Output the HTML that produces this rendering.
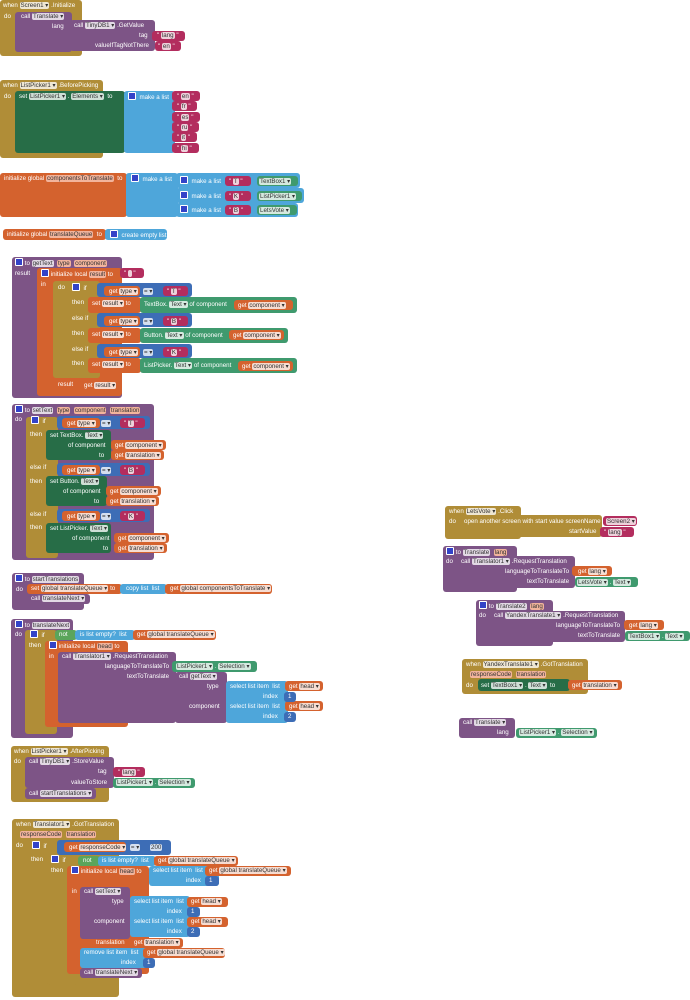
<!DOCTYPE html>
<html><head><meta charset="utf-8"><style>
body{margin:0;width:690px;height:1000px;background:#fff;position:relative;overflow:hidden}
.b{position:absolute;border-radius:3px}
.g{background:#B08D37}.p{background:#7D5486}.o{background:#D4622E}.l{background:#4EA6DA}
.r{background:#B32D5E}.c{background:#3F9A6E}.d{background:#276D47}.m{background:#3D6DB6}.n{background:#5BA55B}
.t{position:absolute;font:6.2px/9px "Liberation Sans",sans-serif;color:#fff;white-space:nowrap}
.f{background:rgba(255,255,255,.78);color:#333;border-radius:2px;padding:0 1px}
.v{background:#F2B49C;color:#333;border-radius:2px;padding:0 1px}
.i{display:inline-block;width:6px;height:6px;background:#3343c8;border:1px solid #fff;border-radius:1px;vertical-align:-1px}
</style></head><body>

<!-- Screen1.Initialize -->
<div class="b g" style="left:0;top:0;width:82px;height:56px"></div>
<div class="b p" style="left:15px;top:12px;width:57px;height:40px"></div>
<div class="b p" style="left:70px;top:20px;width:85px;height:31px"></div>
<div class="b r" style="left:152px;top:31px;width:33px;height:10px"></div>
<div class="b r" style="left:155px;top:41px;width:26px;height:10px"></div>
<div class="t" style="left:3px;top:1px">when <span class=f>Screen1 ▾</span> .Initialize</div>
<div class="t" style="left:4px;top:12px">do</div>
<div class="t" style="left:21px;top:12px">call <span class=f>Translate ▾</span></div>
<div class="t" style="left:52px;top:22px">lang</div>
<div class="t" style="left:74px;top:21px">call <span class=f>TinyDB1 ▾</span> .GetValue</div>
<div class="t" style="left:139px;top:31px">tag</div>
<div class="t" style="left:95px;top:41px">valueIfTagNotThere</div>
<div class="t" style="left:157px;top:31px">" <span class=f>lang</span> "</div>
<div class="t" style="left:158px;top:42px">" <span class=f>en</span> "</div>

<!-- ListPicker1.BeforePicking -->
<div class="b g" style="left:0;top:80px;width:103px;height:78px"></div>
<div class="b d" style="left:15px;top:91px;width:110px;height:62px"></div>
<div class="b l" style="left:124px;top:91px;width:51px;height:62px"></div>
<div class="b r" style="left:172px;top:91px;width:28px;height:10px"></div>
<div class="b r" style="left:172px;top:101px;width:25px;height:10px"></div>
<div class="b r" style="left:172px;top:112px;width:28px;height:10px"></div>
<div class="b r" style="left:172px;top:122px;width:27px;height:10px"></div>
<div class="b r" style="left:172px;top:132px;width:25px;height:10px"></div>
<div class="b r" style="left:172px;top:143px;width:27px;height:10px"></div>
<div class="t" style="left:3px;top:81px">when <span class=f>ListPicker1 ▾</span> .BeforePicking</div>
<div class="t" style="left:4px;top:92px">do</div>
<div class="t" style="left:19px;top:92px">set <span class=f>ListPicker1 ▾</span> . <span class=f>Elements ▾</span> &nbsp;to</div>
<div class="t" style="left:128px;top:92px"><span class=i></span> &nbsp;make a list</div>
<div class="t" style="left:177px;top:92px">" <span class=f>en</span> "</div>
<div class="t" style="left:177px;top:102px">" <span class=f>fr</span> "</div>
<div class="t" style="left:177px;top:113px">" <span class=f>es</span> "</div>
<div class="t" style="left:177px;top:123px">" <span class=f>ru</span> "</div>
<div class="t" style="left:177px;top:133px">" <span class=f>it</span> "</div>
<div class="t" style="left:177px;top:144px">" <span class=f>hi</span> "</div>

<!-- componentsToTranslate -->
<div class="b o" style="left:0;top:173px;width:127px;height:44px"></div>
<div class="b l" style="left:126px;top:173px;width:52px;height:44px"></div>
<div class="b l" style="left:176px;top:173px;width:124px;height:15px"></div>
<div class="b l" style="left:176px;top:188px;width:128px;height:15px"></div>
<div class="b l" style="left:176px;top:203px;width:122px;height:14px"></div>
<div class="b r" style="left:225px;top:176px;width:26px;height:10px"></div>
<div class="b r" style="left:225px;top:191px;width:26px;height:10px"></div>
<div class="b r" style="left:225px;top:205px;width:26px;height:10px"></div>
<div class="b c" style="left:257px;top:176px;width:41px;height:10px"></div>
<div class="b c" style="left:257px;top:191px;width:45px;height:10px"></div>
<div class="b c" style="left:257px;top:205px;width:40px;height:10px"></div>
<div class="t" style="left:4px;top:174px">initialize global <span class=v>componentsToTranslate</span> &nbsp;to</div>
<div class="t" style="left:131px;top:174px"><span class=i></span> &nbsp;make a list</div>
<div class="t" style="left:180px;top:176px"><span class=i></span> &nbsp;make a list</div>
<div class="t" style="left:180px;top:191px"><span class=i></span> &nbsp;make a list</div>
<div class="t" style="left:180px;top:205px"><span class=i></span> &nbsp;make a list</div>
<div class="t" style="left:229px;top:177px">" <span class=f>T</span> "</div>
<div class="t" style="left:229px;top:192px">" <span class=f>K</span> "</div>
<div class="t" style="left:229px;top:206px">" <span class=f>B</span> "</div>
<div class="t" style="left:259px;top:177px"><span class=f>TextBox1 ▾</span></div>
<div class="t" style="left:259px;top:192px"><span class=f>ListPicker1 ▾</span></div>
<div class="t" style="left:259px;top:206px"><span class=f>LetsVote ▾</span></div>

<!-- translateQueue -->
<div class="b o" style="left:3px;top:229px;width:103px;height:11px"></div>
<div class="b l" style="left:105px;top:229px;width:62px;height:11px"></div>
<div class="t" style="left:7px;top:230px">initialize global <span class=v>translateQueue</span> &nbsp;to</div>
<div class="t" style="left:110px;top:230px"><span class=i></span> &nbsp;create empty list</div>

<!-- getText -->
<div class="b p" style="left:12px;top:257px;width:110px;height:141px"></div>
<div class="b o" style="left:37px;top:268px;width:85px;height:128px"></div>
<div class="b r" style="left:120px;top:268px;width:24px;height:10px"></div>
<div class="b g" style="left:53px;top:281px;width:47px;height:97px"></div>
<div class="b g" style="left:68px;top:282px;width:32px;height:96px"></div>
<div class="b m" style="left:97px;top:283px;width:95px;height:14px"></div>
<div class="b m" style="left:97px;top:313px;width:95px;height:14px"></div>
<div class="b m" style="left:97px;top:344px;width:95px;height:14px"></div>
<div class="b o" style="left:88px;top:297px;width:53px;height:16px"></div>
<div class="b o" style="left:88px;top:328px;width:53px;height:15px"></div>
<div class="b o" style="left:88px;top:358px;width:53px;height:15px"></div>
<div class="b c" style="left:140px;top:297px;width:157px;height:16px"></div>
<div class="b c" style="left:140px;top:328px;width:148px;height:15px"></div>
<div class="b c" style="left:140px;top:358px;width:157px;height:15px"></div>
<div class="b o" style="left:234px;top:300px;width:59px;height:10px"></div>
<div class="b o" style="left:229px;top:330px;width:55px;height:10px"></div>
<div class="b o" style="left:238px;top:361px;width:55px;height:10px"></div>
<div class="b o" style="left:104px;top:286px;width:36px;height:10px"></div>
<div class="b o" style="left:104px;top:316px;width:36px;height:10px"></div>
<div class="b o" style="left:104px;top:347px;width:36px;height:10px"></div>
<div class="b r" style="left:163px;top:286px;width:25px;height:10px"></div>
<div class="b r" style="left:163px;top:316px;width:25px;height:10px"></div>
<div class="b r" style="left:163px;top:347px;width:25px;height:10px"></div>
<div class="b o" style="left:80px;top:380px;width:40px;height:10px"></div>
<div class="t" style="left:15px;top:258px"><span class=i></span> to <span class=f>getText</span> &nbsp;<span class=v>type</span> &nbsp;<span class=v>component</span></div>
<div class="t" style="left:15px;top:269px">result</div>
<div class="t" style="left:41px;top:269px"><span class=i></span> initialize local <span class=v>result</span> to</div>
<div class="t" style="left:124px;top:269px">" <span class=f>&nbsp;</span> "</div>
<div class="t" style="left:41px;top:280px">in</div>
<div class="t" style="left:58px;top:283px">do</div>
<div class="t" style="left:72px;top:283px"><span class=i></span> &nbsp;if</div>
<div class="t" style="left:109px;top:287px">get <span class=f>type ▾</span> &nbsp;&nbsp;<span class=f>= ▾</span></div>
<div class="t" style="left:167px;top:287px">" <span class=f>T</span> "</div>
<div class="t" style="left:72px;top:298px">then</div>
<div class="t" style="left:92px;top:299px">set <span class=f>result ▾</span> to</div>
<div class="t" style="left:144px;top:300px">TextBox. <span class=f>Text ▾</span> of component</div>
<div class="t" style="left:238px;top:301px">get <span class=f>component ▾</span></div>
<div class="t" style="left:72px;top:314px">else if</div>
<div class="t" style="left:109px;top:317px">get <span class=f>type ▾</span> &nbsp;&nbsp;<span class=f>= ▾</span></div>
<div class="t" style="left:167px;top:317px">" <span class=f>B</span> "</div>
<div class="t" style="left:72px;top:329px">then</div>
<div class="t" style="left:92px;top:330px">set <span class=f>result ▾</span> to</div>
<div class="t" style="left:144px;top:331px">Button. <span class=f>Text ▾</span> of component</div>
<div class="t" style="left:233px;top:331px">get <span class=f>component ▾</span></div>
<div class="t" style="left:72px;top:345px">else if</div>
<div class="t" style="left:109px;top:348px">get <span class=f>type ▾</span> &nbsp;&nbsp;<span class=f>= ▾</span></div>
<div class="t" style="left:167px;top:348px">" <span class=f>K</span> "</div>
<div class="t" style="left:72px;top:359px">then</div>
<div class="t" style="left:92px;top:360px">set <span class=f>result ▾</span> to</div>
<div class="t" style="left:144px;top:361px">ListPicker. <span class=f>Text ▾</span> of component</div>
<div class="t" style="left:242px;top:362px">get <span class=f>component ▾</span></div>
<div class="t" style="left:58px;top:380px">result</div>
<div class="t" style="left:84px;top:381px">get <span class=f>result ▾</span></div>

<!-- setText -->
<div class="b p" style="left:12px;top:404px;width:142px;height:156px"></div>
<div class="b g" style="left:26px;top:417px;width:32px;height:141px"></div>
<div class="b m" style="left:57px;top:416px;width:93px;height:13px"></div>
<div class="b m" style="left:57px;top:463px;width:93px;height:13px"></div>
<div class="b m" style="left:57px;top:509px;width:93px;height:13px"></div>
<div class="b o" style="left:62px;top:418px;width:38px;height:10px"></div>
<div class="b o" style="left:62px;top:465px;width:38px;height:10px"></div>
<div class="b o" style="left:62px;top:511px;width:38px;height:10px"></div>
<div class="b r" style="left:120px;top:418px;width:25px;height:10px"></div>
<div class="b r" style="left:120px;top:465px;width:25px;height:10px"></div>
<div class="b r" style="left:120px;top:511px;width:25px;height:10px"></div>
<div class="b d" style="left:46px;top:430px;width:65px;height:30px"></div>
<div class="b d" style="left:46px;top:476px;width:61px;height:30px"></div>
<div class="b d" style="left:46px;top:523px;width:65px;height:30px"></div>
<div class="b o" style="left:111px;top:440px;width:55px;height:10px"></div>
<div class="b o" style="left:111px;top:450px;width:53px;height:10px"></div>
<div class="b o" style="left:106px;top:486px;width:55px;height:10px"></div>
<div class="b o" style="left:106px;top:496px;width:53px;height:10px"></div>
<div class="b o" style="left:114px;top:533px;width:55px;height:10px"></div>
<div class="b o" style="left:114px;top:543px;width:53px;height:10px"></div>
<div class="t" style="left:15px;top:405px"><span class=i></span> to <span class=f>setText</span> &nbsp;<span class=v>type</span> &nbsp;<span class=v>component</span> &nbsp;<span class=v>translation</span></div>
<div class="t" style="left:15px;top:415px">do</div>
<div class="t" style="left:31px;top:416px"><span class=i></span> &nbsp;if</div>
<div class="t" style="left:67px;top:419px">get <span class=f>type ▾</span> &nbsp;&nbsp;<span class=f>= ▾</span></div>
<div class="t" style="left:124px;top:419px">" <span class=f>T</span> "</div>
<div class="t" style="left:30px;top:430px">then</div>
<div class="t" style="left:50px;top:431px">set TextBox. <span class=f>Text ▾</span></div>
<div class="t" style="left:68px;top:441px">of component</div>
<div class="t" style="left:99px;top:451px">to</div>
<div class="t" style="left:115px;top:441px">get <span class=f>component ▾</span></div>
<div class="t" style="left:115px;top:451px">get <span class=f>translation ▾</span></div>
<div class="t" style="left:30px;top:463px">else if</div>
<div class="t" style="left:67px;top:466px">get <span class=f>type ▾</span> &nbsp;&nbsp;<span class=f>= ▾</span></div>
<div class="t" style="left:124px;top:466px">" <span class=f>B</span> "</div>
<div class="t" style="left:30px;top:477px">then</div>
<div class="t" style="left:50px;top:477px">set Button. <span class=f>Text ▾</span></div>
<div class="t" style="left:63px;top:487px">of component</div>
<div class="t" style="left:94px;top:497px">to</div>
<div class="t" style="left:110px;top:487px">get <span class=f>component ▾</span></div>
<div class="t" style="left:110px;top:497px">get <span class=f>translation ▾</span></div>
<div class="t" style="left:30px;top:510px">else if</div>
<div class="t" style="left:67px;top:512px">get <span class=f>type ▾</span> &nbsp;&nbsp;<span class=f>= ▾</span></div>
<div class="t" style="left:124px;top:512px">" <span class=f>K</span> "</div>
<div class="t" style="left:30px;top:523px">then</div>
<div class="t" style="left:50px;top:524px">set ListPicker. <span class=f>Text ▾</span></div>
<div class="t" style="left:72px;top:534px">of component</div>
<div class="t" style="left:103px;top:544px">to</div>
<div class="t" style="left:118px;top:534px">get <span class=f>component ▾</span></div>
<div class="t" style="left:118px;top:544px">get <span class=f>translation ▾</span></div>

<!-- startTranslations -->
<div class="b p" style="left:12px;top:573px;width:72px;height:37px"></div>
<div class="b o" style="left:27px;top:584px;width:95px;height:10px"></div>
<div class="b l" style="left:120px;top:584px;width:47px;height:10px"></div>
<div class="b o" style="left:165px;top:584px;width:107px;height:10px"></div>
<div class="b p" style="left:27px;top:594px;width:63px;height:10px"></div>
<div class="t" style="left:15px;top:574px"><span class=i></span> to <span class=f>startTranslations</span></div>
<div class="t" style="left:16px;top:585px">do</div>
<div class="t" style="left:31px;top:584px">set <span class=f>global translateQueue ▾</span> to</div>
<div class="t" style="left:126px;top:584px">copy list &nbsp;list</div>
<div class="t" style="left:170px;top:584px">get <span class=f>global componentsToTranslate ▾</span></div>
<div class="t" style="left:31px;top:594px">call <span class=f>translateNext ▾</span></div>

<!-- translateNext -->
<div class="b p" style="left:11px;top:619px;width:62px;height:119px"></div>
<div class="b g" style="left:25px;top:630px;width:32px;height:104px"></div>
<div class="b n" style="left:55px;top:630px;width:22px;height:10px"></div>
<div class="b l" style="left:75px;top:630px;width:60px;height:10px"></div>
<div class="b o" style="left:133px;top:630px;width:83px;height:10px"></div>
<div class="b o" style="left:45px;top:641px;width:83px;height:86px"></div>
<div class="b p" style="left:58px;top:652px;width:118px;height:71px"></div>
<div class="b c" style="left:172px;top:661px;width:85px;height:11px"></div>
<div class="b p" style="left:175px;top:672px;width:52px;height:51px"></div>
<div class="b l" style="left:226px;top:681px;width:62px;height:42px"></div>
<div class="b o" style="left:285px;top:681px;width:38px;height:10px"></div>
<div class="b o" style="left:285px;top:701px;width:38px;height:10px"></div>
<div class="b m" style="left:284px;top:692px;width:12px;height:10px"></div>
<div class="b m" style="left:284px;top:712px;width:12px;height:10px"></div>
<div class="t" style="left:15px;top:620px"><span class=i></span> to <span class=f>translateNext</span></div>
<div class="t" style="left:15px;top:630px">do</div>
<div class="t" style="left:30px;top:630px"><span class=i></span> &nbsp;if</div>
<div class="t" style="left:59px;top:630px">not</div>
<div class="t" style="left:80px;top:630px">is list empty? &nbsp;list</div>
<div class="t" style="left:137px;top:630px">get <span class=f>global translateQueue ▾</span></div>
<div class="t" style="left:29px;top:641px">then</div>
<div class="t" style="left:49px;top:641px"><span class=i></span> initialize local <span class=v>head</span> to</div>
<div class="t" style="left:49px;top:652px">in</div>
<div class="t" style="left:62px;top:652px">call <span class=f>Translator1 ▾</span> .RequestTranslation</div>
<div class="t" style="left:105px;top:662px">languageToTranslateTo</div>
<div class="t" style="left:127px;top:672px">textToTranslate</div>
<div class="t" style="left:176px;top:662px"><span class=f>ListPicker1 ▾</span> . <span class=f>Selection ▾</span></div>
<div class="t" style="left:179px;top:672px">call <span class=f>getText ▾</span></div>
<div class="t" style="left:207px;top:682px">type</div>
<div class="t" style="left:189px;top:702px">component</div>
<div class="t" style="left:230px;top:682px">select list item &nbsp;list</div>
<div class="t" style="left:263px;top:692px">index</div>
<div class="t" style="left:230px;top:702px">select list item &nbsp;list</div>
<div class="t" style="left:263px;top:712px">index</div>
<div class="t" style="left:289px;top:682px">get <span class=f>head ▾</span></div>
<div class="t" style="left:289px;top:702px">get <span class=f>head ▾</span></div>
<div class="t" style="left:288px;top:692px">1</div>
<div class="t" style="left:288px;top:712px">2</div>

<!-- ListPicker1.AfterPicking -->
<div class="b g" style="left:11px;top:746px;width:98px;height:56px"></div>
<div class="b p" style="left:25px;top:757px;width:89px;height:31px"></div>
<div class="b r" style="left:113px;top:767px;width:32px;height:10px"></div>
<div class="b c" style="left:113px;top:778px;width:82px;height:10px"></div>
<div class="b p" style="left:25px;top:788px;width:71px;height:11px"></div>
<div class="t" style="left:14px;top:747px">when <span class=f>ListPicker1 ▾</span> .AfterPicking</div>
<div class="t" style="left:14px;top:757px">do</div>
<div class="t" style="left:29px;top:757px">call <span class=f>TinyDB1 ▾</span> .StoreValue</div>
<div class="t" style="left:98px;top:767px">tag</div>
<div class="t" style="left:71px;top:778px">valueToStore</div>
<div class="t" style="left:118px;top:768px">" <span class=f>lang</span> "</div>
<div class="t" style="left:116px;top:778px"><span class=f>ListPicker1 ▾</span> . <span class=f>Selection ▾</span></div>
<div class="t" style="left:29px;top:789px">call <span class=f>startTranslations ▾</span></div>

<!-- Translator1.GotTranslation -->
<div class="b g" style="left:12px;top:819px;width:107px;height:178px"></div>
<div class="b g" style="left:27px;top:840px;width:32px;height:145px"></div>
<div class="b g" style="left:47px;top:856px;width:31px;height:129px"></div>
<div class="b m" style="left:57px;top:840px;width:114px;height:15px"></div>
<div class="b o" style="left:64px;top:842px;width:62px;height:10px"></div>
<div class="b n" style="left:78px;top:856px;width:22px;height:10px"></div>
<div class="b l" style="left:98px;top:856px;width:58px;height:10px"></div>
<div class="b o" style="left:154px;top:856px;width:84px;height:10px"></div>
<div class="b o" style="left:67px;top:866px;width:82px;height:108px"></div>
<div class="b l" style="left:149px;top:866px;width:70px;height:20px"></div>
<div class="b o" style="left:205px;top:866px;width:86px;height:10px"></div>
<div class="b m" style="left:205px;top:876px;width:14px;height:10px"></div>
<div class="b p" style="left:80px;top:887px;width:50px;height:52px"></div>
<div class="b l" style="left:130px;top:896px;width:60px;height:41px"></div>
<div class="b o" style="left:187px;top:897px;width:41px;height:10px"></div>
<div class="b o" style="left:187px;top:917px;width:41px;height:10px"></div>
<div class="b m" style="left:187px;top:907px;width:13px;height:10px"></div>
<div class="b m" style="left:187px;top:927px;width:13px;height:10px"></div>
<div class="b o" style="left:130px;top:938px;width:53px;height:10px"></div>
<div class="b l" style="left:80px;top:948px;width:70px;height:20px"></div>
<div class="b o" style="left:143px;top:948px;width:82px;height:10px"></div>
<div class="b m" style="left:143px;top:958px;width:12px;height:10px"></div>
<div class="b p" style="left:80px;top:968px;width:62px;height:10px"></div>
<div class="t" style="left:16px;top:820px">when <span class=f>Translator1 ▾</span> .GotTranslation</div>
<div class="t" style="left:20px;top:830px"><span class=v>responseCode</span> &nbsp;<span class=v>translation</span></div>
<div class="t" style="left:16px;top:841px">do</div>
<div class="t" style="left:32px;top:841px"><span class=i></span> &nbsp;if</div>
<div class="t" style="left:69px;top:843px">get <span class=f>responseCode ▾</span> &nbsp;<span class=f>= ▾</span></div>
<div class="t" style="left:150px;top:843px"><span class=f>200</span></div>
<div class="t" style="left:31px;top:855px">then</div>
<div class="t" style="left:51px;top:855px"><span class=i></span> &nbsp;if</div>
<div class="t" style="left:83px;top:856px">not</div>
<div class="t" style="left:102px;top:856px">is list empty? &nbsp;list</div>
<div class="t" style="left:158px;top:856px">get <span class=f>global translateQueue ▾</span></div>
<div class="t" style="left:51px;top:866px">then</div>
<div class="t" style="left:71px;top:866px"><span class=i></span> initialize local <span class=v>head</span> to</div>
<div class="t" style="left:153px;top:866px">select list item &nbsp;list</div>
<div class="t" style="left:186px;top:876px">index</div>
<div class="t" style="left:209px;top:866px">get <span class=f>global translateQueue ▾</span></div>
<div class="t" style="left:209px;top:876px">1</div>
<div class="t" style="left:72px;top:887px">in</div>
<div class="t" style="left:84px;top:887px">call <span class=f>setText ▾</span></div>
<div class="t" style="left:112px;top:897px">type</div>
<div class="t" style="left:94px;top:917px">component</div>
<div class="t" style="left:96px;top:938px">translation</div>
<div class="t" style="left:134px;top:897px">select list item &nbsp;list</div>
<div class="t" style="left:167px;top:907px">index</div>
<div class="t" style="left:134px;top:917px">select list item &nbsp;list</div>
<div class="t" style="left:167px;top:927px">index</div>
<div class="t" style="left:191px;top:897px">get <span class=f>head ▾</span></div>
<div class="t" style="left:191px;top:917px">get <span class=f>head ▾</span></div>
<div class="t" style="left:191px;top:907px">1</div>
<div class="t" style="left:191px;top:927px">2</div>
<div class="t" style="left:134px;top:938px">get <span class=f>translation ▾</span></div>
<div class="t" style="left:84px;top:948px">remove list item &nbsp;list</div>
<div class="t" style="left:121px;top:958px">index</div>
<div class="t" style="left:147px;top:948px">get <span class=f>global translateQueue ▾</span></div>
<div class="t" style="left:147px;top:958px">1</div>
<div class="t" style="left:84px;top:968px">call <span class=f>translateNext ▾</span></div>

<!-- LetsVote.Click -->
<div class="b g" style="left:445px;top:506px;width:76px;height:33px"></div>
<div class="b g" style="left:460px;top:515px;width:142px;height:22px"></div>
<div class="b r" style="left:603px;top:516px;width:34px;height:10px"></div>
<div class="b r" style="left:600px;top:527px;width:34px;height:10px"></div>
<div class="t" style="left:449px;top:507px">when <span class=f>LetsVote ▾</span> .Click</div>
<div class="t" style="left:449px;top:517px">do</div>
<div class="t" style="left:464px;top:517px">open another screen with start value screenName</div>
<div class="t" style="left:569px;top:527px">startValue</div>
<div class="t" style="left:606px;top:517px"><span class=f>Screen2 ▾</span></div>
<div class="t" style="left:604px;top:528px">" <span class=f>lang</span> "</div>

<!-- Translate proc -->
<div class="b p" style="left:443px;top:546px;width:74px;height:46px"></div>
<div class="b p" style="left:458px;top:556px;width:117px;height:32px"></div>
<div class="b o" style="left:572px;top:566px;width:40px;height:10px"></div>
<div class="b c" style="left:575px;top:577px;width:63px;height:10px"></div>
<div class="t" style="left:446px;top:547px"><span class=i></span> to <span class=f>Translate</span> &nbsp;<span class=v>lang</span></div>
<div class="t" style="left:446px;top:557px">do</div>
<div class="t" style="left:461px;top:557px">call <span class=f>Translator1 ▾</span> .RequestTranslation</div>
<div class="t" style="left:505px;top:567px">languageToTranslateTo</div>
<div class="t" style="left:527px;top:577px">textToTranslate</div>
<div class="t" style="left:578px;top:567px">get <span class=f>lang ▾</span></div>
<div class="t" style="left:577px;top:578px"><span class=f>LetsVote ▾</span> . <span class=f>Text ▾</span></div>

<!-- Translate2 -->
<div class="b p" style="left:476px;top:600px;width:77px;height:46px"></div>
<div class="b p" style="left:490px;top:611px;width:135px;height:31px"></div>
<div class="b o" style="left:624px;top:620px;width:40px;height:10px"></div>
<div class="b c" style="left:625px;top:631px;width:65px;height:10px"></div>
<div class="t" style="left:479px;top:601px"><span class=i></span> to <span class=f>Translate2</span> &nbsp;<span class=v>lang</span></div>
<div class="t" style="left:479px;top:611px">do</div>
<div class="t" style="left:494px;top:611px">call <span class=f>YandexTranslate1 ▾</span> .RequestTranslation</div>
<div class="t" style="left:556px;top:621px">languageToTranslateTo</div>
<div class="t" style="left:578px;top:631px">textToTranslate</div>
<div class="t" style="left:629px;top:621px">get <span class=f>lang ▾</span></div>
<div class="t" style="left:628px;top:632px"><span class=f>TextBox1 ▾</span> . <span class=f>Text ▾</span></div>

<!-- YandexTranslate1.GotTranslation -->
<div class="b g" style="left:462px;top:659px;width:126px;height:35px"></div>
<div class="b d" style="left:478px;top:679px;width:92px;height:12px"></div>
<div class="b o" style="left:568px;top:680px;width:54px;height:10px"></div>
<div class="t" style="left:466px;top:660px">when <span class=f>YandexTranslate1 ▾</span> .GotTranslation</div>
<div class="t" style="left:470px;top:670px"><span class=v>responseCode</span> &nbsp;<span class=v>translation</span></div>
<div class="t" style="left:466px;top:681px">do</div>
<div class="t" style="left:481px;top:681px">set <span class=f>TextBox1 ▾</span> . <span class=f>Text ▾</span> &nbsp;to</div>
<div class="t" style="left:572px;top:681px">get <span class=f>translation ▾</span></div>

<!-- call Translate -->
<div class="b p" style="left:459px;top:718px;width:56px;height:20px"></div>
<div class="b c" style="left:516px;top:728px;width:81px;height:10px"></div>
<div class="t" style="left:463px;top:718px">call <span class=f>Translate ▾</span></div>
<div class="t" style="left:497px;top:728px">lang</div>
<div class="t" style="left:519px;top:728px"><span class=f>ListPicker1 ▾</span> . <span class=f>Selection ▾</span></div>
</body></html>
